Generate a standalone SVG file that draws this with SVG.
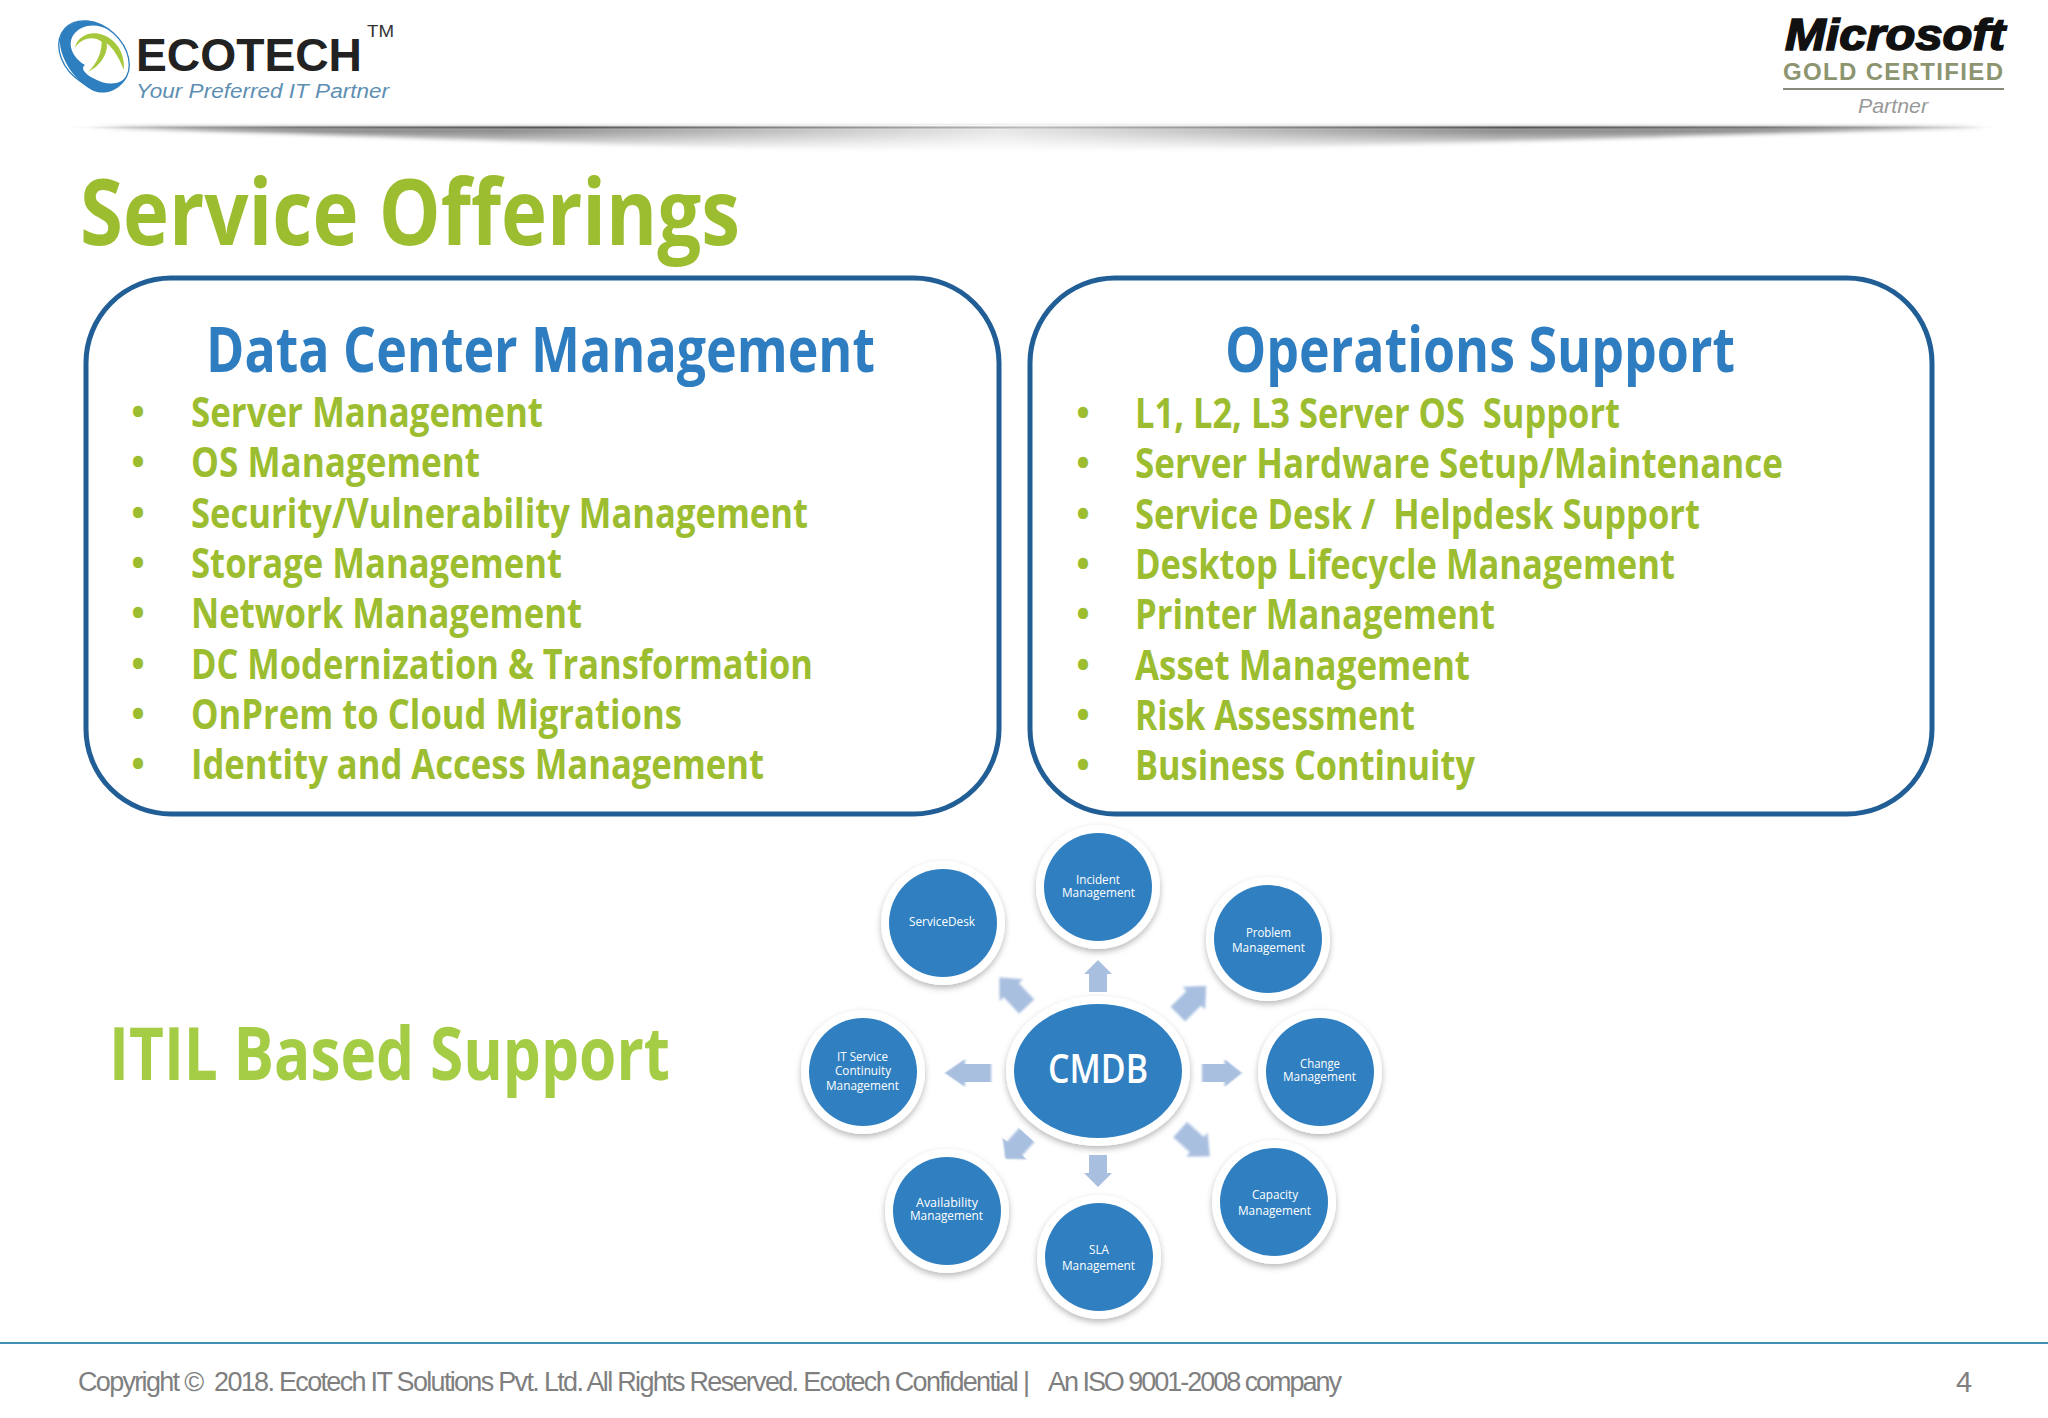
<svg xmlns="http://www.w3.org/2000/svg" width="2048" height="1418" viewBox="0 0 2048 1418">
<defs>
<style>
.sans{font-family:"Open Sans","Noto Sans","Liberation Sans",sans-serif;white-space:pre}
.arial{font-family:"Liberation Sans",Arial,sans-serif;white-space:pre}
.h{font-size:62px;font-weight:700;fill:#2F7DC1}
.it{font-size:42px;font-weight:700;fill:#9CBD2F}
.bu{font-size:36px;font-weight:700;fill:#9CBD2F;text-anchor:middle}
.box{fill:#fff;stroke:#215E96;stroke-width:5}
.ring{fill:#fff;filter:url(#sh)}
.disc{fill:#2F7FC1}
.nt{font-size:13px;fill:#fff;font-family:"Open Sans","Noto Sans",sans-serif}
.arr{fill:#A9BFE0;filter:url(#soft)}
</style>
<filter id="sh" x="-20%" y="-20%" width="140%" height="140%"><feDropShadow dx="0" dy="3" stdDeviation="3" flood-color="#000" flood-opacity=".28"/></filter>
<filter id="soft" x="-20%" y="-20%" width="140%" height="140%"><feGaussianBlur stdDeviation=".7"/></filter>
<filter id="bl" x="-5%" y="-50%" width="110%" height="200%"><feGaussianBlur stdDeviation="2"/></filter>
<linearGradient id="shade" x1="0" x2="0" y1="0" y2="1"><stop offset="0" stop-color="#777"/><stop offset=".6" stop-color="#c8c8c8"/><stop offset="1" stop-color="#fff"/></linearGradient>
<linearGradient id="fadeC" x1="0" x2="1" y1="0" y2="0"><stop offset="0" stop-color="#fff" stop-opacity="0"/><stop offset=".5" stop-color="#fff" stop-opacity=".8"/><stop offset="1" stop-color="#fff" stop-opacity="0"/></linearGradient>
<linearGradient id="dv" x1="0" x2="1" y1="0" y2="0"><stop offset="0" stop-color="#999" stop-opacity="0"/><stop offset=".12" stop-color="#777"/><stop offset=".25" stop-color="#555"/><stop offset=".5" stop-color="#bbb"/><stop offset=".75" stop-color="#555"/><stop offset=".88" stop-color="#777"/><stop offset="1" stop-color="#999" stop-opacity="0"/></linearGradient>
<path id="ar" d="M0-16 14-2H9V16H-9V-2H-14Z"/>
</defs>
<rect width="2048" height="1418" fill="#fff"/>
<g id="logo">
<g transform="translate(50 10) scale(.3333)">
<ellipse cx="132" cy="135" rx="118" ry="88" fill="none" stroke="#2E7FBF" stroke-width="4" transform="rotate(42 132 135)"/>
<path d="M175 60C130 20 60 25 35 70 15 110 55 200 125 240 170 262 225 235 238 180 230 220 180 235 130 205 105 192 90 175 105 165 70 145 50 105 70 75 95 40 145 40 175 60Z" fill="#2E7FBF"/>
<path d="M75 115C80 80 120 60 160 75 200 90 225 130 222 180 205 140 190 115 170 100 175 130 150 170 115 185 140 160 155 130 155 95 130 75 90 85 75 115Z" fill="#A5C83C"/>
</g>
<text class="arial" x="136" y="71" font-size="46" font-weight="700" fill="#222" textLength="226" lengthAdjust="spacingAndGlyphs">ECOTECH</text>
<text class="arial" x="367" y="37" font-size="17" fill="#333" textLength="27" lengthAdjust="spacingAndGlyphs">TM</text>
<text class="arial" x="136" y="98" font-size="20" font-style="italic" fill="#5E8FB3" textLength="253" lengthAdjust="spacingAndGlyphs">Your Preferred IT Partner</text>
</g>
<g id="ms-badge">
<text class="arial" x="1785" y="50" font-size="44" font-weight="700" font-style="italic" fill="#111" stroke="#111" stroke-width="1.6" textLength="220" lengthAdjust="spacingAndGlyphs">Microsoft</text>
<text class="arial" x="1783" y="80" font-size="24" font-weight="700" fill="#8D9570" textLength="220" lengthAdjust="spacing">GOLD CERTIFIED</text>
<rect x="1783" y="88" width="221" height="2" fill="#8A8A7C"/>
<text class="arial" x="1858" y="113" font-size="21" font-style="italic" fill="#999" textLength="70" lengthAdjust="spacingAndGlyphs">Partner</text>
</g>
<g id="divider">
<path d="M90 127H1985C1700 134 1300 151 1000 151 700 151 350 134 90 127Z" fill="url(#shade)" filter="url(#bl)"/>
<rect x="500" y="125" width="1000" height="30" fill="url(#fadeC)"/>
<rect x="70" y="126.500" width="1925" height="2" fill="url(#dv)"/>
</g>
<text class="sans" x="80" y="245" font-size="92" font-weight="700" fill="#9CBD2F" textLength="660" lengthAdjust="spacingAndGlyphs">Service Offerings</text>
<g id="data-center">
<rect class="box" x="86" y="278" width="913" height="536" rx="85"/>
<text class="sans h" x="206" y="372" textLength="669" lengthAdjust="spacingAndGlyphs">Data Center Management</text>
<g class="sans">
<text class="bu" x="138" y="425">•</text><text class="it" x="191" y="427" textLength="352" lengthAdjust="spacingAndGlyphs">Server Management</text>
<text class="bu" x="138" y="475">•</text><text class="it" x="191" y="477" textLength="289" lengthAdjust="spacingAndGlyphs">OS Management</text>
<text class="bu" x="138" y="526">•</text><text class="it" x="191" y="528" textLength="617" lengthAdjust="spacingAndGlyphs">Security/Vulnerability Management</text>
<text class="bu" x="138" y="576">•</text><text class="it" x="191" y="578" textLength="371" lengthAdjust="spacingAndGlyphs">Storage Management</text>
<text class="bu" x="138" y="626">•</text><text class="it" x="191" y="628" textLength="391" lengthAdjust="spacingAndGlyphs">Network Management</text>
<text class="bu" x="138" y="677">•</text><text class="it" x="191" y="679" textLength="622" lengthAdjust="spacingAndGlyphs">DC Modernization &amp; Transformation</text>
<text class="bu" x="138" y="727">•</text><text class="it" x="191" y="729" textLength="491" lengthAdjust="spacingAndGlyphs">OnPrem to Cloud Migrations</text>
<text class="bu" x="138" y="777">•</text><text class="it" x="191" y="779" textLength="573" lengthAdjust="spacingAndGlyphs">Identity and Access Management</text>
</g>
</g>
<g id="ops-support">
<rect class="box" x="1030" y="278" width="902" height="536" rx="85"/>
<text class="sans h" x="1225" y="372" textLength="510" lengthAdjust="spacingAndGlyphs">Operations Support</text>
<g class="sans">
<text class="bu" x="1083" y="426">•</text><text class="it" x="1135" y="428" textLength="485" lengthAdjust="spacingAndGlyphs" xml:space="preserve">L1, L2, L3 Server OS  Support</text>
<text class="bu" x="1083" y="476">•</text><text class="it" x="1135" y="478" textLength="648" lengthAdjust="spacingAndGlyphs">Server Hardware Setup/Maintenance</text>
<text class="bu" x="1083" y="527">•</text><text class="it" x="1135" y="529" textLength="565" lengthAdjust="spacingAndGlyphs" xml:space="preserve">Service Desk /  Helpdesk Support</text>
<text class="bu" x="1083" y="577">•</text><text class="it" x="1135" y="579" textLength="540" lengthAdjust="spacingAndGlyphs">Desktop Lifecycle Management</text>
<text class="bu" x="1083" y="627">•</text><text class="it" x="1135" y="629" textLength="360" lengthAdjust="spacingAndGlyphs">Printer Management</text>
<text class="bu" x="1083" y="678">•</text><text class="it" x="1135" y="680" textLength="335" lengthAdjust="spacingAndGlyphs">Asset Management</text>
<text class="bu" x="1083" y="728">•</text><text class="it" x="1135" y="730" textLength="280" lengthAdjust="spacingAndGlyphs">Risk Assessment</text>
<text class="bu" x="1083" y="778">•</text><text class="it" x="1135" y="780" textLength="340" lengthAdjust="spacingAndGlyphs">Business Continuity</text>
</g>
</g>
<text class="sans" x="109" y="1080" font-size="74" font-weight="700" fill="#A5CC45" textLength="561" lengthAdjust="spacingAndGlyphs">ITIL Based Support</text>
<g id="connectors">
<use href="#ar" class="arr" transform="translate(1098 976)"/>
<use href="#ar" class="arr" transform="translate(1098 1171) rotate(180)"/>
<use href="#ar" class="arr" transform="translate(1222 1073) rotate(90) scale(1 1.25)"/>
<use href="#ar" class="arr" transform="translate(968 1073) rotate(-90) scale(1 1.45)"/>
<use href="#ar" class="arr" transform="translate(1013 992) rotate(-43) scale(1.15 1.25)"/>
<use href="#ar" class="arr" transform="translate(1192 1000) rotate(45) scale(1.15 1.25)"/>
<use href="#ar" class="arr" transform="translate(1195 1143) rotate(132) scale(1.15 1.25)"/>
<use href="#ar" class="arr" transform="translate(1016 1147) rotate(-138) scale(1.15 1)"/>
</g>
<g id="cmdb"><ellipse class="ring" cx="1098" cy="1071" rx="92" ry="75"/><ellipse class="disc" cx="1098" cy="1071" rx="84" ry="67"/><text class="sans" x="1048" y="1083" font-size="40" font-weight="600" fill="#fff" textLength="100" lengthAdjust="spacingAndGlyphs">CMDB</text></g>
<g id="incident"><circle class="ring" cx="1098" cy="887" r="62"/><circle class="disc" cx="1098" cy="887" r="54"/><text class="nt" x="1076" y="884" textLength="44" lengthAdjust="spacingAndGlyphs">Incident</text><text class="nt" x="1062" y="897" textLength="73" lengthAdjust="spacingAndGlyphs">Management</text></g>
<g id="service-desk"><circle class="ring" cx="943" cy="923" r="62"/><circle class="disc" cx="943" cy="923" r="54"/><text class="nt" x="909" y="926" textLength="66" lengthAdjust="spacingAndGlyphs">ServiceDesk</text></g>
<g id="problem"><circle class="ring" cx="1268" cy="939" r="62"/><circle class="disc" cx="1268" cy="939" r="54"/><text class="nt" x="1246" y="937" textLength="45" lengthAdjust="spacingAndGlyphs">Problem</text><text class="nt" x="1232" y="952" textLength="73" lengthAdjust="spacingAndGlyphs">Management</text></g>
<g id="change"><circle class="ring" cx="1320" cy="1072" r="62"/><circle class="disc" cx="1320" cy="1072" r="54"/><text class="nt" x="1300" y="1068" textLength="40" lengthAdjust="spacingAndGlyphs">Change</text><text class="nt" x="1283" y="1081" textLength="73" lengthAdjust="spacingAndGlyphs">Management</text></g>
<g id="capacity"><circle class="ring" cx="1274" cy="1202" r="62"/><circle class="disc" cx="1274" cy="1202" r="54"/><text class="nt" x="1252" y="1199" textLength="46" lengthAdjust="spacingAndGlyphs">Capacity</text><text class="nt" x="1238" y="1215" textLength="73" lengthAdjust="spacingAndGlyphs">Management</text></g>
<g id="sla"><circle class="ring" cx="1099" cy="1257" r="62"/><circle class="disc" cx="1099" cy="1257" r="54"/><text class="nt" x="1089" y="1254" textLength="20" lengthAdjust="spacingAndGlyphs">SLA</text><text class="nt" x="1062" y="1270" textLength="73" lengthAdjust="spacingAndGlyphs">Management</text></g>
<g id="availability"><circle class="ring" cx="947" cy="1211" r="62"/><circle class="disc" cx="947" cy="1211" r="54"/><text class="nt" x="916" y="1207" textLength="62" lengthAdjust="spacingAndGlyphs">Availability</text><text class="nt" x="910" y="1220" textLength="73" lengthAdjust="spacingAndGlyphs">Management</text></g>
<g id="it-continuity"><circle class="ring" cx="863" cy="1072" r="62"/><circle class="disc" cx="863" cy="1072" r="54"/><text class="nt" x="837" y="1061" textLength="51" lengthAdjust="spacingAndGlyphs">IT Service</text><text class="nt" x="835" y="1075" textLength="56" lengthAdjust="spacingAndGlyphs">Continuity</text><text class="nt" x="826" y="1090" textLength="73" lengthAdjust="spacingAndGlyphs">Management</text></g>
<g id="footer">
<rect x="0" y="1342" width="2048" height="2" fill="#3F8FB5"/>
<text class="arial" x="78" y="1391" font-size="27" fill="#7F7F7F" textLength="952" lengthAdjust="spacing" xml:space="preserve">Copyright ©  2018. Ecotech IT Solutions Pvt. Ltd. All Rights Reserved. Ecotech Confidential |</text>
<text class="arial" x="1048" y="1391" font-size="27" fill="#7F7F7F" textLength="294" lengthAdjust="spacing">An ISO 9001-2008 company</text>
<text class="arial" x="1956" y="1392" font-size="29" fill="#7F7F7F">4</text>
</g>
</svg>
